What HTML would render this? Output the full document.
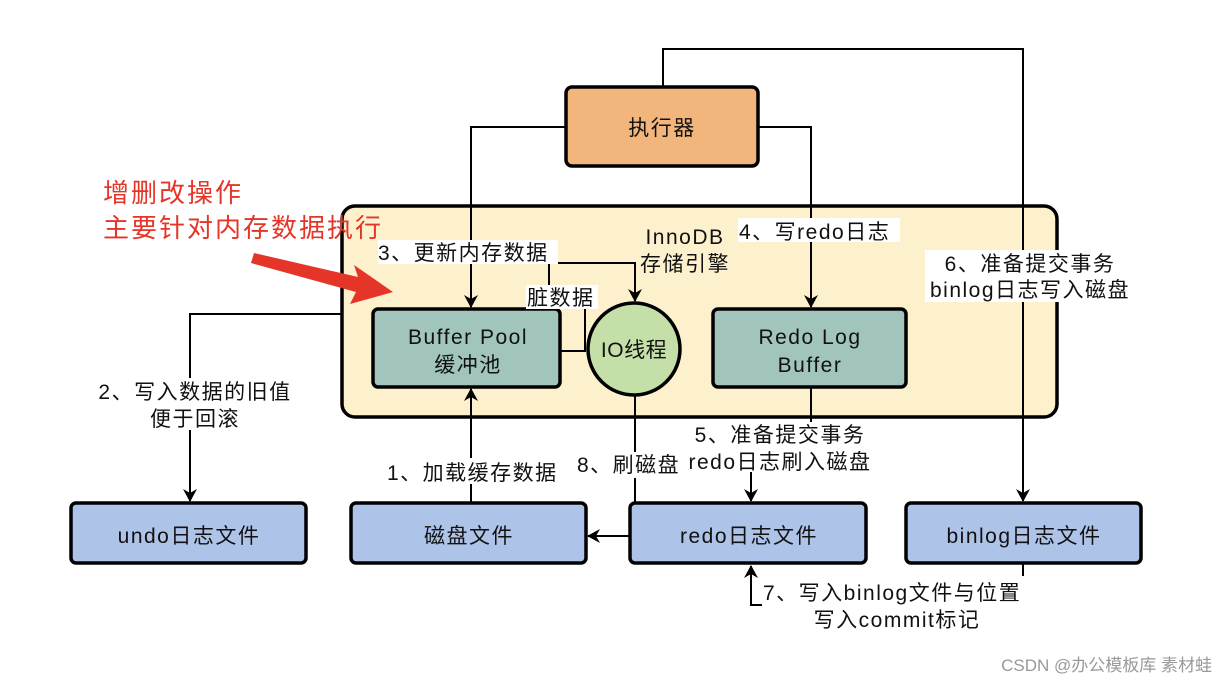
<!DOCTYPE html>
<html><head><meta charset="utf-8"><style>
html,body{margin:0;padding:0;background:#fff}
svg{display:block}
text{font-family:"Liberation Sans","Noto Sans CJK SC",sans-serif;fill:#111}
.l{font-size:21px;letter-spacing:1.5px}
.b{font-size:21px;letter-spacing:1.5px}
</style></head><body>
<svg width="1226" height="684" viewBox="0 0 1226 684" xmlns="http://www.w3.org/2000/svg">
<defs>
<marker id="a" markerWidth="14" markerHeight="14" refX="12" refY="7" orient="auto" markerUnits="userSpaceOnUse">
<path d="M0,0 L13,7 L0,14 L4,7 Z" fill="#000"/>
</marker>
</defs>
<rect x="342" y="206" width="715" height="211" rx="13" fill="#fdf0cd" stroke="#000" stroke-width="3.5"/>
<g fill="none" stroke="#000" stroke-width="2">
<polyline points="663,87 663,49 1023,49 1023,501" marker-end="url(#a)"/>
<polyline points="566,127 471,127 471,307" marker-end="url(#a)"/>
<polyline points="758,127 811,127 811,307" marker-end="url(#a)"/>
<polyline points="560,351 585,351 585,300 549,300 549,263 635,263 635,301" marker-end="url(#a)"/>
<polyline points="635,395 635,536 588,536" marker-end="url(#a)"/>
<polyline points="811,387 811,425"/>
<polyline points="751,472 751,501" marker-end="url(#a)"/>
<polyline points="342,314 190,314 190,501" marker-end="url(#a)"/>
<polyline points="471,503 471,389" marker-end="url(#a)"/>
<polyline points="1023,563 1023,576"/>
<polyline points="762,605 751,605 751,566" marker-end="url(#a)"/>
</g>
<rect x="566" y="87" width="192" height="79" rx="6" fill="#f2b57b" stroke="#000" stroke-width="3.5"/>
<text x="662" y="135" class="b" text-anchor="middle">执行器</text>
<rect x="373" y="309" width="187" height="78" rx="5" fill="#a1c5bb" stroke="#000" stroke-width="3.5"/>
<text x="468" y="344" class="b" text-anchor="middle">Buffer Pool</text>
<text x="468" y="372" class="b" text-anchor="middle">缓冲池</text>
<circle cx="634" cy="349" r="46" fill="#c4dfa8" stroke="#000" stroke-width="3.5"/>
<text x="634" y="357" class="b" text-anchor="middle" style="letter-spacing:0.5px">IO线程</text>
<rect x="713" y="309" width="193" height="78" rx="5" fill="#a1c5bb" stroke="#000" stroke-width="3.5"/>
<text x="810" y="344" class="b" text-anchor="middle">Redo Log</text>
<text x="810" y="372" class="b" text-anchor="middle">Buffer</text>
<g fill="#aec3e8" stroke="#000" stroke-width="3.5">
<rect x="71" y="503" width="235" height="60" rx="5"/>
<rect x="351" y="503" width="235" height="60" rx="5"/>
<rect x="630" y="503" width="236" height="60" rx="5"/>
<rect x="906" y="503" width="235" height="60" rx="5"/>
</g>
<g class="b" text-anchor="middle">
<text x="189" y="543">undo日志文件</text>
<text x="469" y="543">磁盘文件</text>
<text x="749" y="543">redo日志文件</text>
<text x="1024" y="543">binlog日志文件</text>
</g>
<g fill="#fff">
<rect x="378" y="240" width="180" height="24"/>
<rect x="526" y="285" width="72" height="24"/>
<rect x="738" y="218" width="162" height="24"/>
<rect x="925" y="250" width="210" height="52"/>
<rect x="90" y="378" width="210" height="52"/>
<rect x="386" y="458" width="182" height="26"/>
<rect x="576" y="452" width="110" height="26"/>
<rect x="690" y="422" width="180" height="50"/>
<rect x="762" y="578" width="270" height="52"/>
</g>
<g class="l">
<text x="378" y="260">3、更新内存数据</text>
<text x="527" y="305">脏数据</text>
<text x="685" y="244" text-anchor="middle">InnoDB</text>
<text x="685" y="271" text-anchor="middle">存储引擎</text>
<text x="739" y="239">4、写redo日志</text>
<text x="1030" y="271" text-anchor="middle">6、准备提交事务</text>
<text x="1030" y="297" text-anchor="middle">binlog日志写入磁盘</text>
<text x="195" y="399" text-anchor="middle">2、写入数据的旧值</text>
<text x="195" y="426" text-anchor="middle">便于回滚</text>
<text x="387" y="480">1、加载缓存数据</text>
<text x="577" y="472">8、刷磁盘</text>
<text x="780" y="442" text-anchor="middle">5、准备提交事务</text>
<text x="780" y="469" text-anchor="middle">redo日志刷入磁盘</text>
<text x="763" y="600">7、写入binlog文件与位置</text>
<text x="897" y="627" text-anchor="middle">写入commit标记</text>
</g>
<text x="103" y="202" font-size="26" style="fill:#e53528;letter-spacing:2px">增删改操作</text>
<text x="103" y="237" font-size="26" style="fill:#e53528;letter-spacing:2px">主要针对内存数据执行</text>
<path d="M254,253 L358,277 L354,265 L393,292 L350,304 L356,292 L251,263 Z" fill="#e53528"/>
<text x="1212" y="671" font-size="17" text-anchor="end" style="fill:#999">CSDN @办公模板库 素材蛙</text>
</svg>
</body></html>
